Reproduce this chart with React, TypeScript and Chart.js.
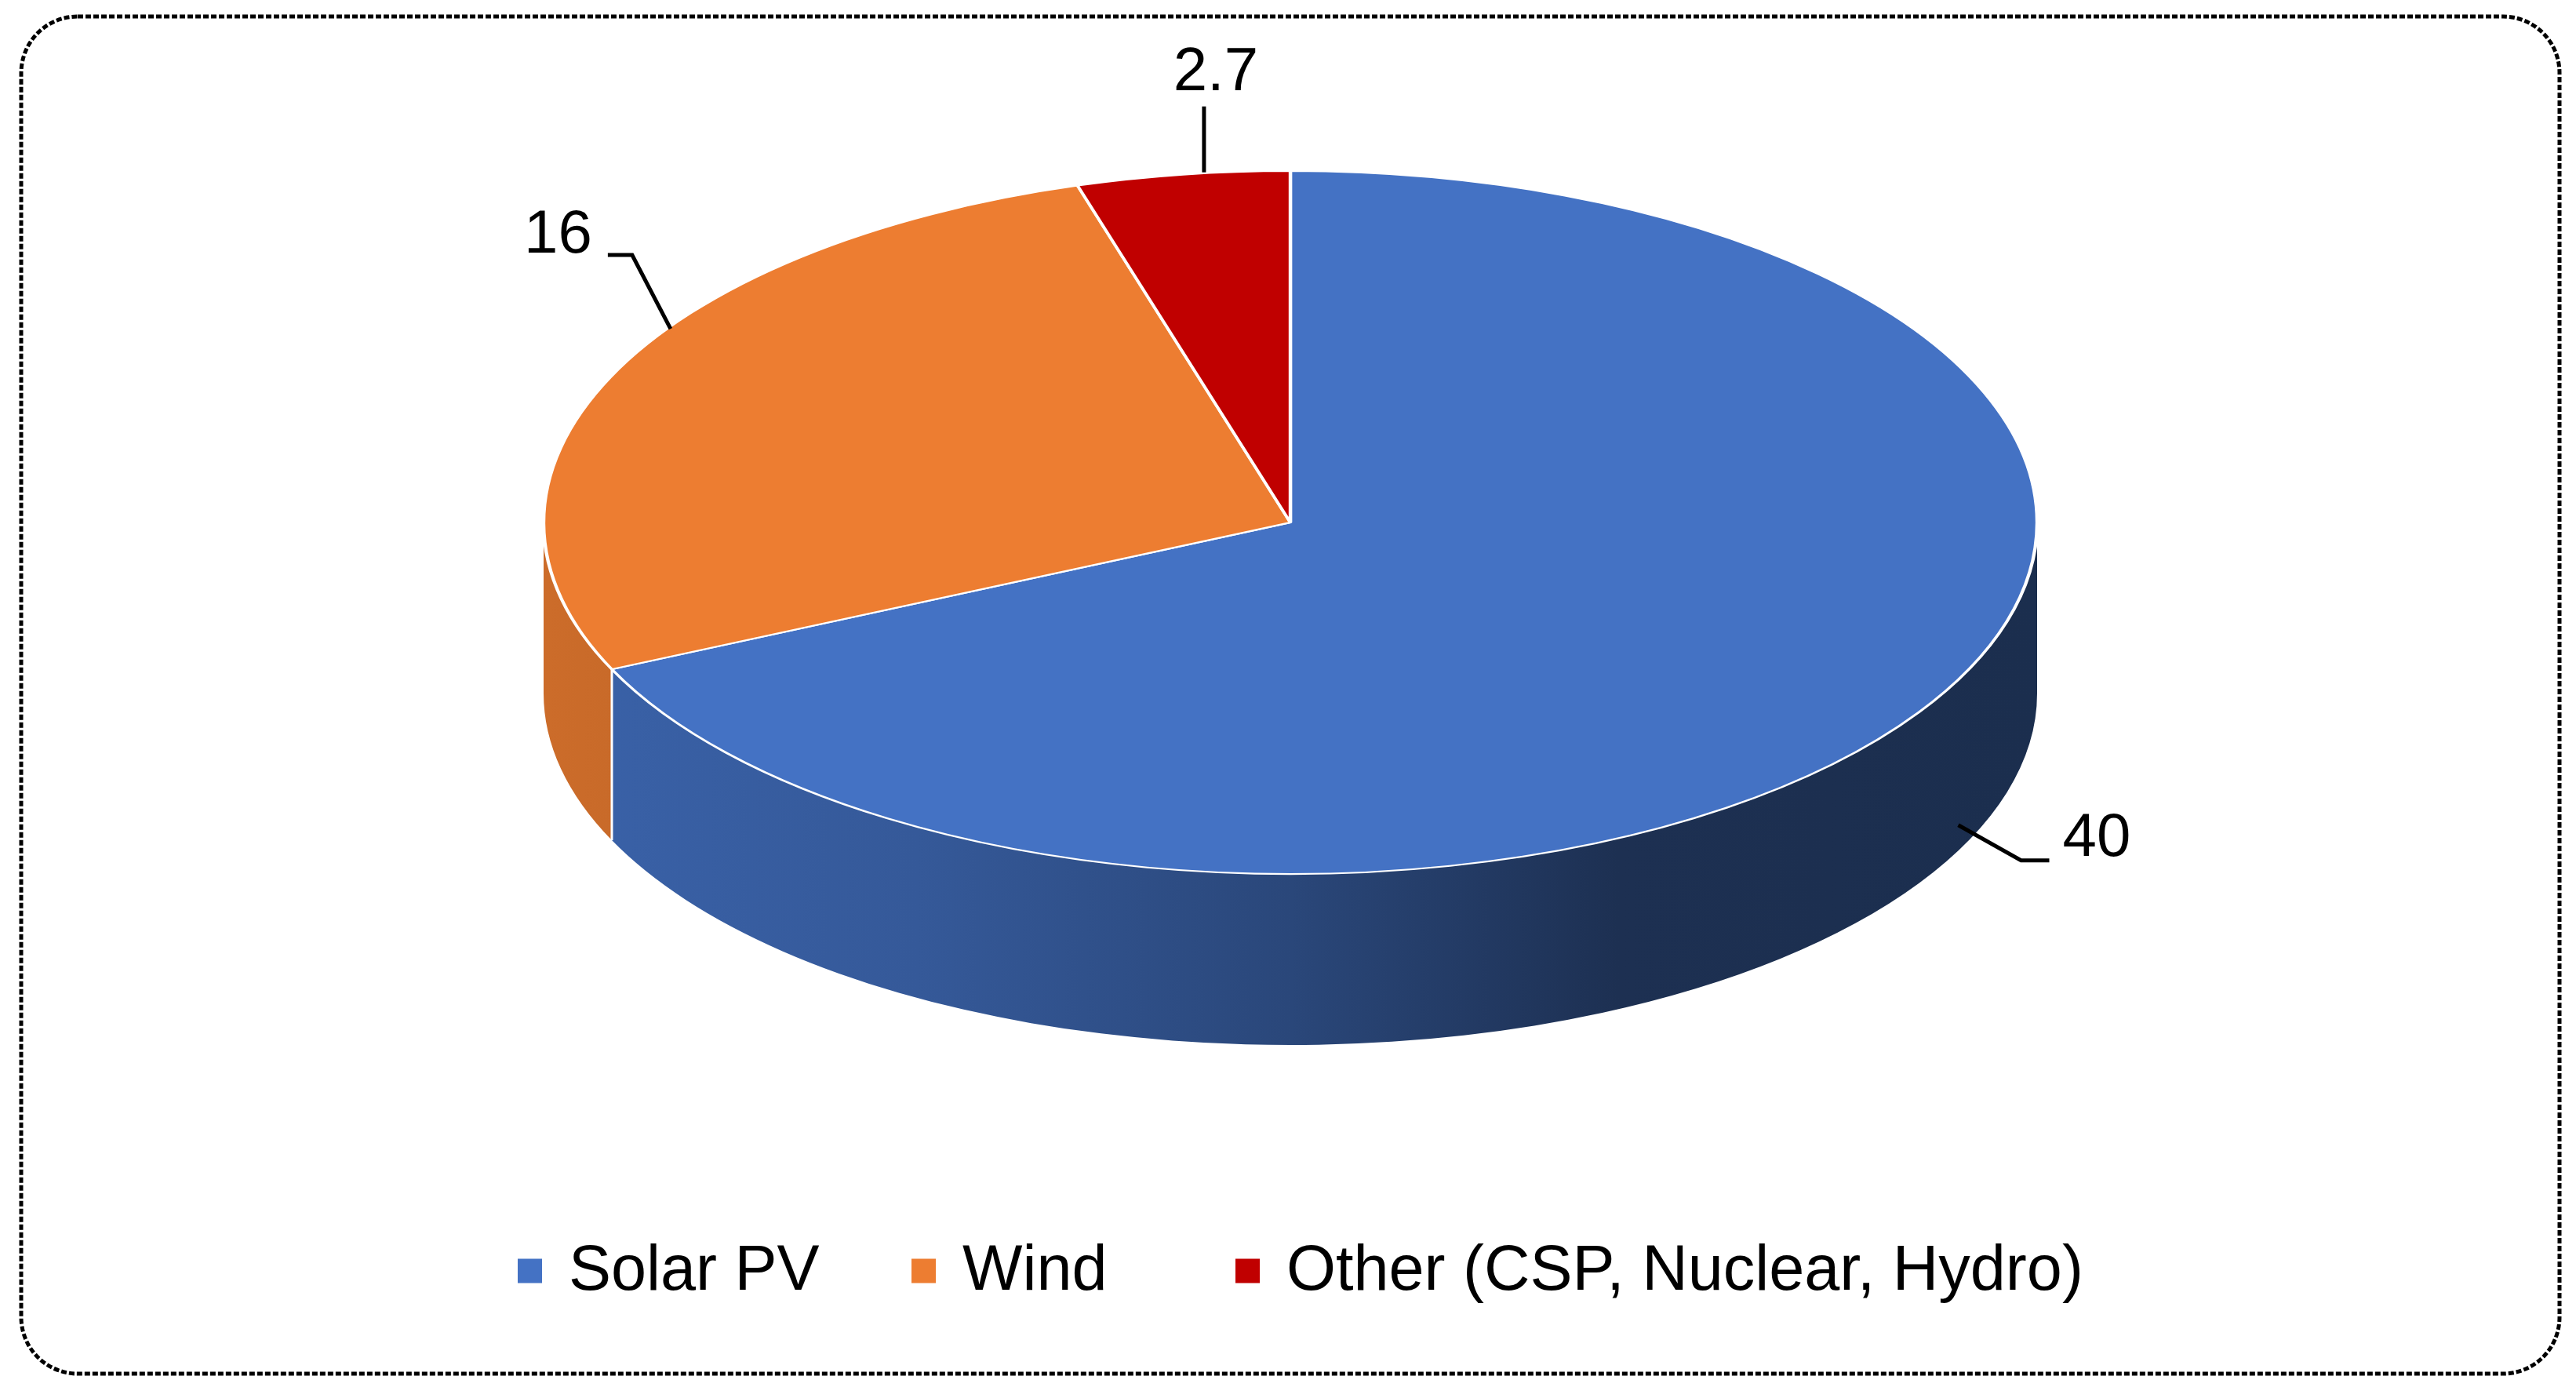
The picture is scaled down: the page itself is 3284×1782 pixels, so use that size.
import React, { useEffect, useRef } from "react";
import { Chart, registerables } from "chart.js";

Chart.register(...registerables);

// ---- data ----
const categories = ["Solar PV", "Wind", "Other (CSP, Nuclear, Hydro)"];
const values = [40, 16, 2.7];
const valueLabels = ["40", "16", "2.7"];
const topColors = ["#4472C4", "#ED7D31", "#C00000"];

// ---- layout (screen pixels) ----
const W = 3284;
const H = 1782;
const CX = 1645;
const CY = 666;
const RX = 952;
const RY = 448;
const DEPTH = 218;
const FONT = "'Liberation Sans', Arial, sans-serif";
const LABEL_FONT_SIZE = 78;
const LEGEND_FONT_SIZE = 81;
const legendX = [660, 1162, 1575];
const LEGEND_Y = 1620;

// label leader offsets relative to slice anchor: [start, elbow, end] and text anchor
const labelLayouts = [
  { pts: [[50, 35], [130, 80], [166, 80]], text: [183, 53], align: "left" },
  { pts: [[77, -62], [28, -156], [-3, -156]], text: [-23, -181], align: "right" },
  { pts: [[27, -3], [27, -87]], text: [42, -129], align: "center" },
];

// side shading: brightness factor across the pie width
const shadeStops: [number, number][] = [
  [0, 0.86],
  [0.25, 0.78],
  [0.5, 0.62],
  [0.72, 0.42],
  [1, 0.4],
];

function hexToRgb(h: string) {
  const n = parseInt(h.slice(1), 16);
  return [(n >> 16) & 255, (n >> 8) & 255, n & 255];
}

function shadeGradient(ctx: CanvasRenderingContext2D, color: string) {
  const g = ctx.createLinearGradient(CX - RX, 0, CX + RX, 0);
  const [r, gg, b] = hexToRgb(color);
  shadeStops.forEach(([p, f]) => {
    g.addColorStop(p, `rgb(${Math.round(r * f)},${Math.round(gg * f)},${Math.round(b * f)})`);
  });
  return g;
}

const pie3d = {
  id: "pie3d",
  beforeDatasetsDraw(chart: any) {
    const ctx: CanvasRenderingContext2D = chart.ctx;
    const arcs = chart.getDatasetMeta(0).data as any[];
    if (!arcs.length) return;
    const seams: number[] = [];
    arcs.forEach((arc, i) => {
      const { startAngle, endAngle } = arc.getProps(["startAngle", "endAngle"], true);
      for (const k of [-1, 0, 1]) {
        const off = k * 2 * Math.PI;
        const a0 = Math.max(startAngle, off);
        const a1 = Math.min(endAngle, off + Math.PI);
        if (a1 > a0) {
          const s = a0 - off;
          const e = a1 - off;
          ctx.save();
          ctx.beginPath();
          ctx.ellipse(CX, CY, RX, RY, 0, s, e, false);
          ctx.lineTo(CX + RX * Math.cos(e), CY + DEPTH + RY * Math.sin(e));
          ctx.ellipse(CX, CY + DEPTH, RX, RY, 0, e, s, true);
          ctx.closePath();
          ctx.fillStyle = shadeGradient(ctx, topColors[i]);
          ctx.fill();
          ctx.restore();
          if (s > 0.001) seams.push(s);
        }
      }
    });
    ctx.save();
    ctx.strokeStyle = "#ffffff";
    ctx.lineWidth = 3;
    seams.forEach((a) => {
      ctx.beginPath();
      ctx.moveTo(CX + RX * Math.cos(a), CY + RY * Math.sin(a));
      ctx.lineTo(CX + RX * Math.cos(a), CY + DEPTH + RY * Math.sin(a));
      ctx.stroke();
    });
    ctx.restore();

    const a0 = arcs[0];
    ctx.save();
    ctx.translate(CX, CY);
    ctx.scale(RX / a0.outerRadius, RY / a0.outerRadius);
    ctx.translate(-a0.x, -a0.y);
  },
  afterDatasetsDraw(chart: any) {
    chart.ctx.restore();
  },
  afterDraw(chart: any) {
    const ctx: CanvasRenderingContext2D = chart.ctx;
    const arcs = chart.getDatasetMeta(0).data as any[];
    ctx.save();
    // data labels with leader lines
    ctx.font = `${LABEL_FONT_SIZE}px ${FONT}`;
    ctx.fillStyle = "#000";
    ctx.strokeStyle = "#000";
    ctx.lineWidth = 5;
    ctx.lineJoin = "miter";
    arcs.forEach((arc, i) => {
      const { startAngle, endAngle } = arc.getProps(["startAngle", "endAngle"], true);
      const mid = (startAngle + endAngle) / 2;
      const sn = Math.sin(mid);
      const ax = CX + RX * Math.cos(mid);
      const ay = CY + RY * sn + (sn > 0 ? DEPTH / 2 : 0);
      const lay = labelLayouts[i];
      ctx.beginPath();
      lay.pts.forEach(([dx, dy], j) => {
        if (j === 0) ctx.moveTo(ax + dx, ay + dy);
        else ctx.lineTo(ax + dx, ay + dy);
      });
      ctx.stroke();
      ctx.textAlign = lay.align as CanvasTextAlign;
      ctx.textBaseline = "middle";
      ctx.fillText(valueLabels[i], ax + lay.text[0], ay + lay.text[1]);
    });

    // legend
    const box = 31;
    const gapBoxText = 34;
    ctx.font = `${LEGEND_FONT_SIZE}px ${FONT}`;
    ctx.textAlign = "left";
    ctx.textBaseline = "middle";
    categories.forEach((c, i) => {
      const x = legendX[i];
      ctx.fillStyle = topColors[i];
      ctx.fillRect(x, LEGEND_Y - box / 2, box, box);
      ctx.fillStyle = "#000";
      ctx.fillText(c, x + box + gapBoxText, LEGEND_Y + 2);
    });

    // dashed rounded frame
    ctx.beginPath();
    ctx.setLineDash([7, 3]);
    ctx.lineWidth = 5;
    ctx.strokeStyle = "#000";
    ctx.roundRect(27, 21, 3263 - 27, 1751 - 21, 72);
    ctx.stroke();
    ctx.restore();
  },
};

export default function App() {
  const ref = useRef<HTMLCanvasElement | null>(null);
  useEffect(() => {
    if (!ref.current) return;
    const chart = new Chart(ref.current, {
      type: "pie",
      data: {
        labels: categories,
        datasets: [
          {
            data: values,
            backgroundColor: topColors,
            borderColor: "#ffffff",
            borderWidth: 4,
            clip: false as any,
          },
        ],
      },
      options: {
        responsive: false,
        devicePixelRatio: 1,
        animation: false,
        layout: { padding: 20 },
        plugins: {
          legend: { display: false },
          tooltip: { enabled: false },
        },
      },
      plugins: [pie3d],
    });
    return () => chart.destroy();
  }, []);
  return (
    <div style={{ position: "fixed", left: 0, top: 0, width: W, height: H, background: "#fff" }}>
      <canvas ref={ref} width={W} height={H} style={{ display: "block", width: W, height: H }} />
    </div>
  );
}
